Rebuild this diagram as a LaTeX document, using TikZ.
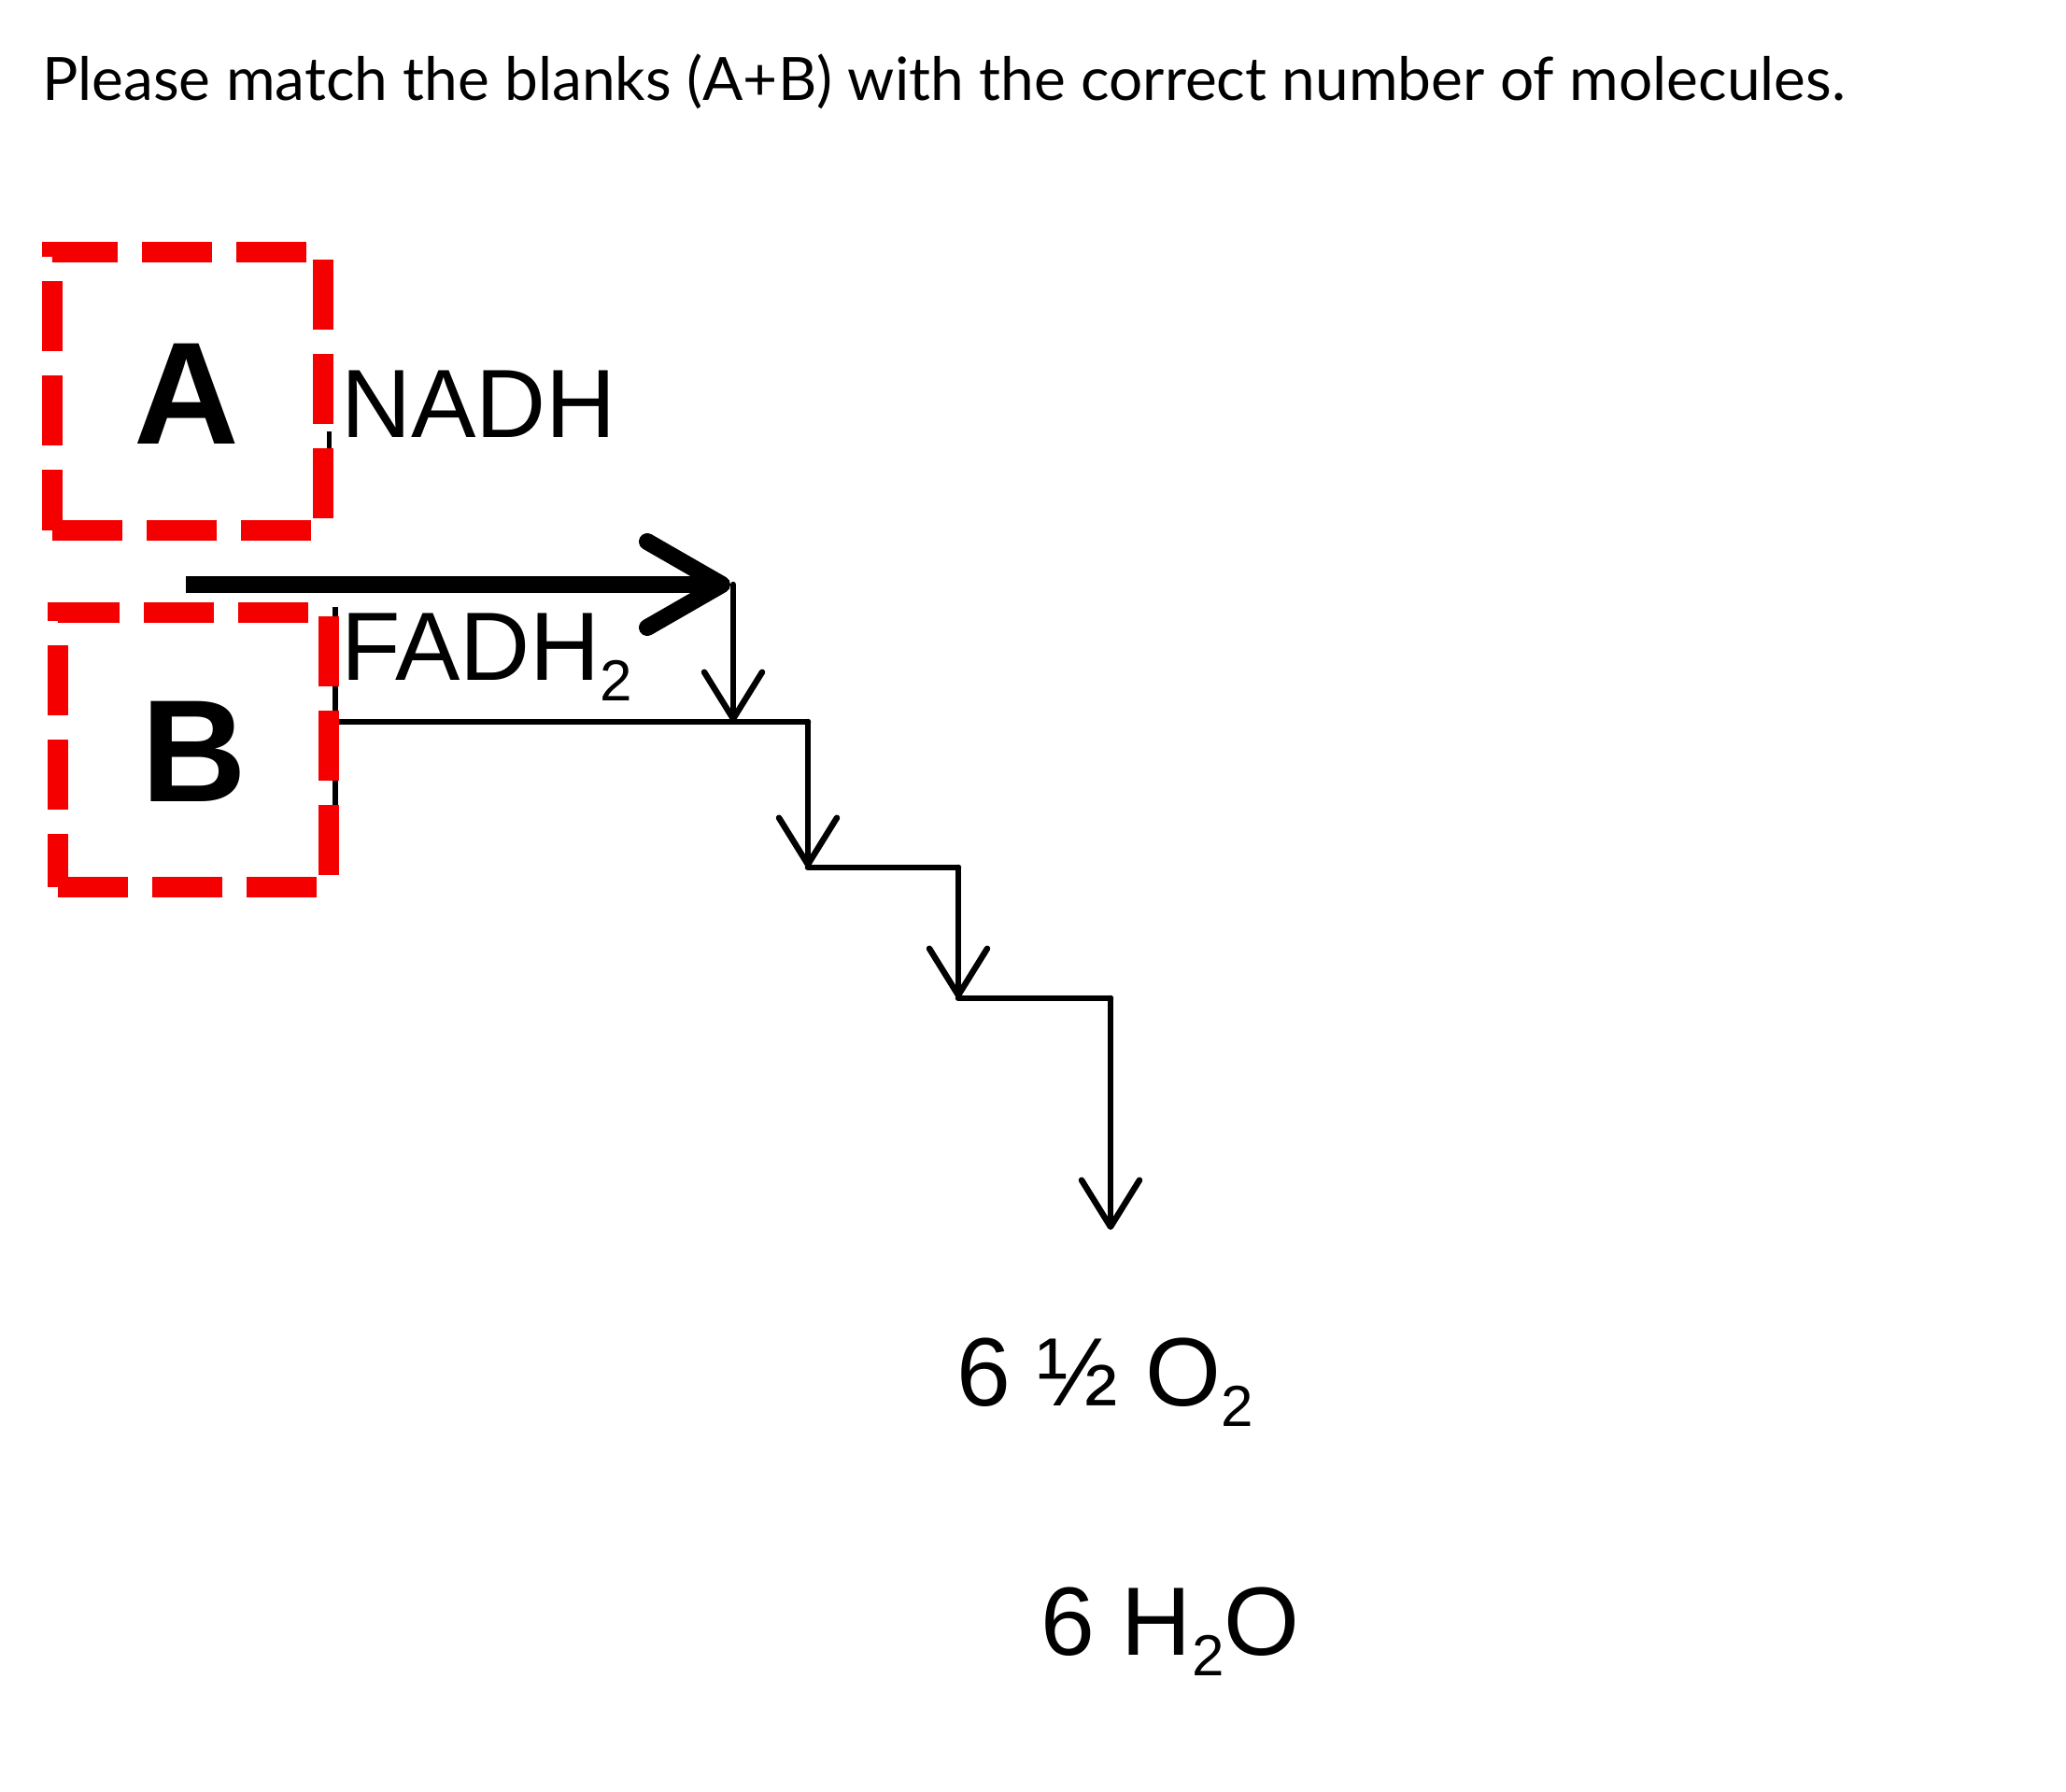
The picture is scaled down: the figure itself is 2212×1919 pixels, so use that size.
\documentclass[tikz,border=0pt]{standalone}
\usepackage{fontspec}
\setmainfont{Lato}
\newfontfamily\arialf{Liberation Sans}
\usetikzlibrary{arrows.meta}
\definecolor{boxred}{RGB}{245,0,0}
\tikzset{
  blankbox/.style={draw=boxred, line width=22pt, dash pattern=on 75pt off 26pt, rectangle, inner sep=0pt},
  letter/.style={anchor=base, inner sep=0pt, font=\fontsize{156}{156}\selectfont\arialf\bfseries},
  chem/.style={anchor=base west, inner sep=0pt, font=\fontsize{104}{110}\selectfont\arialf},
  stepline/.style={line width=6.5pt, line cap=round, line join=miter},
  steparrow/.style={stepline, -{Straight Barb[length=50pt,width=62pt,round]}},
  bigarrow/.style={line width=18pt, -{Straight Barb[length=80pt,width=92pt,round]}},
}
\newcommand{\subtwo}{\raisebox{-22pt}{\fontsize{62}{62}\selectfont 2}}
\begin{document}
\begin{tikzpicture}[x=1pt,y=-1pt]
\useasboundingbox (0,0) rectangle (2212,1919);
% title
\node[anchor=base west, inner sep=0pt, font=\fontsize{64}{77}\selectfont] (title) at (45,107)
  {Please match the blanks (A+B) with the correct number of molecules.};
% black fragments under the red boxes
\coordinate (tk1) at (352,462);
\coordinate (tk2) at (352,486);
\draw[line width=5pt] (tk1) -- (tk2);
\coordinate (bk1) at (359,650);
\coordinate (bk2) at (359,864);
\draw[line width=6pt] (bk1) -- (bk2);
% staircase
\coordinate (s0) at (785,626);
\coordinate (s1) at (785,773);
\coordinate (h0) at (359,773);
\coordinate (s2) at (865,773);
\coordinate (s3) at (865,929);
\coordinate (s4) at (1026,929);
\coordinate (s5) at (1026,1069);
\coordinate (s6) at (1189,1069);
\coordinate (s7) at (1189,1317);
\draw[stepline] (h0) -- (s2);
\draw[steparrow] (s0) -- (s1);
\draw[steparrow] (s2) -- (s3);
\draw[stepline] (s3) -- (s4);
\draw[steparrow] (s4) -- (s5);
\draw[stepline] (s5) -- (s6);
\draw[steparrow] (s6) -- (s7);
% red blank boxes
\node[blankbox, minimum width=290pt, minimum height=298pt] (boxA) at (201,419) {};
\node[blankbox, minimum width=290pt, minimum height=294pt] (boxB) at (207,803) {};
\node[letter] (A) at (200,475) {A};
\node[letter] (B) at (208,858) {B};
% thick arrow
\coordinate (t0) at (199,626);
\coordinate (t1) at (782,626);
\draw[bigarrow] (t0) -- (t1);
% labels
\node[chem] (nadh) at (365,468) {NADH};
\node[chem] (fadh) at (365,728) {FADH\subtwo};
\node[chem] (o2) at (1024,1505) {6 ½ O\subtwo};
\node[chem] (h2o) at (1114,1772) {6 H\subtwo O};
\end{tikzpicture}
\end{document}
